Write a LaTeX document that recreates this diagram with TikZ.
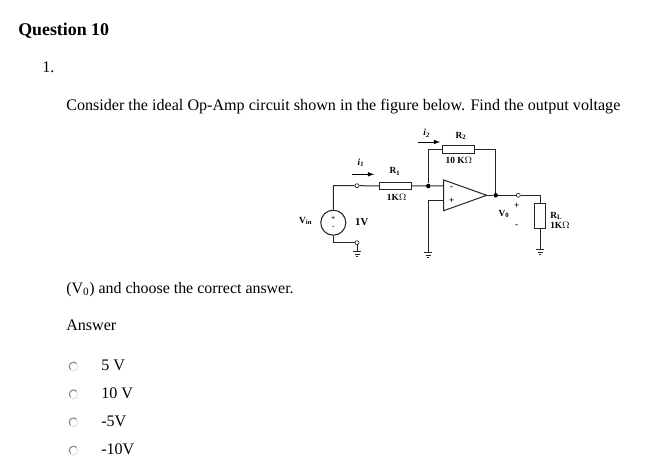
\documentclass[tikz,border=0pt]{standalone}
\usepackage{fontspec}
\setmainfont{Liberation Serif}
\tikzset{
  txt/.style={inner sep=0pt,anchor=base west,font=\fontsize{12.08}{14}\selectfont},
  lbl/.style={inner sep=0pt,font=\fontsize{7}{8}\selectfont\bfseries},
  sgn/.style={inner sep=0pt,font=\fontsize{5.5}{6}\selectfont\bfseries},
  wire/.style={draw=black!85,line width=.75pt},
  res/.style={draw=black!85,line width=.75pt,fill=white,inner sep=0pt,minimum width=24.3pt,minimum height=5.8pt},
  dot/.style={circle,fill=black,inner sep=0pt,minimum size=3.4pt},
  term/.style={circle,draw=black!85,fill=white,line width=.5pt,inner sep=0pt,minimum size=3pt},
  radio/.style={circle,draw=black!12,line width=.7pt,inner sep=0pt,minimum size=6.5pt},
  gnd/.pic={
    \draw[wire] (-4,0) -- (4,0);
    \draw[wire] (-2.5,2.5) -- (2.5,2.5);
    \draw[wire] (-1,5) -- (1,5);
  }
}
\begin{document}
\begin{tikzpicture}[x=.75pt,y=-.75pt]
\useasboundingbox (0,0) rectangle (667,470);
% page text
\node[txt,font=\fontsize{13.4}{16}\selectfont\bfseries] (title) at (18,35.5) {Question 10};
\node[txt] (num) at (42,73) {1.};
\node[txt] (line1) at (66,111) {Consider the ideal Op-Amp circuit shown in the figure below. Find the output voltage};
\node[txt,font=\fontsize{11.95}{14}\selectfont] (line2) at (66,293) {(V\textsubscript{0}) and choose the correct answer.};
\node[txt] (ans) at (66,330) {Answer};
% answers
\foreach \i/\yy/\t in {a/366.7/5 V,b/394.5/10 V,c/422.5/-5V,d/450.7/-10V}{
  \node[radio] (radio\i) at (73.3,\yy) {};
  \draw[black!50,line width=.7pt] (radio\i.north east) arc (-45:-225:4.33);
  \node[txt] (opt\i) at (101,\yy+3.5) {\t};
}
% resistors and amp
\node[res] (R1) at (395.5,186) {};
\node[res] (R2) at (458.5,149.3) {};
\node[res,minimum width=8.2pt,minimum height=19pt] (RL) at (540,216) {};
\coordinate (ampA) at (443.7,180);
\coordinate (ampB) at (443.7,210.7);
\coordinate (ampC) at (486.7,195.3);
\draw[wire] (ampA) -- (ampB) -- (ampC) -- cycle;
% source
\node[circle,draw=black!85,line width=.8pt,inner sep=0pt,minimum size=18.8pt] (vin) at (333.3,222.7) {};
\node[term] (t1) at (357,185.7) {};
\node[term] (t2) at (357,242.7) {};
\node[term] (t3) at (518.3,195.3) {};
\node[dot] (j1) at (428.3,186) {};
\node[dot] (j2) at (495.7,195.3) {};
\coordinate (inM) at (443.7,186);
\coordinate (inP) at (443.7,200.7);
\coordinate (g1) at (357,252);
\coordinate (g2) at (428.3,253);
\coordinate (g3) at (540,250);
% wires
\draw[wire] (vin.north) |- (t1) -- (R1) -- (j1) -- (inM);
\draw[wire] (vin.south) |- (t2) -- (g1);
\draw[wire] (j1) |- (R2) -| (j2);
\draw[wire] (ampC) -- (j2) -- (t3) -| (RL.north);
\draw[wire] (RL.south) -- (g3);
\draw[wire] (inP) -| (g2);
\pic at (g1) {gnd};
\pic at (g2) {gnd};
\pic at (g3) {gnd};
% current arrows
\coordinate (i1a) at (352.3,174.3);
\coordinate (i1b) at (374,174.3);
\coordinate (i2a) at (418.3,142);
\coordinate (i2b) at (440,142);
\draw[-latex,line width=.6pt] (i1a) -- (i1b);
\draw[-latex,line width=.6pt] (i2a) -- (i2b);
% labels
\node[lbl,font=\fontsize{7}{8}\selectfont\bfseries\itshape] (li1) at (361,163) {i\textsubscript{1}};
\node[lbl,font=\fontsize{7}{8}\selectfont\bfseries\itshape] (li2) at (426.7,133.3) {i\textsubscript{2}};
\node[lbl] (lR1) at (395,171.3) {R\textsubscript{1}};
\node[lbl] (lR1v) at (396.7,197.5) {1K$\Omega$};
\node[lbl] (lR2) at (461,136) {R\textsubscript{2}};
\node[lbl] (lR2v) at (459,160) {10 K$\Omega$};
\node[lbl] (lvin) at (305.7,220.7) {V\textsubscript{in}};
\node[lbl,font=\fontsize{8}{8}\selectfont\bfseries] (lv) at (361.7,221.7) {1V};
\node[sgn] (lp) at (333.3,218) {+};
\node[sgn] (lm) at (333.3,227.5) {-};
\node[lbl] (lampm) at (451.5,188) {-};
\node[lbl] (lampp) at (451.5,201) {+};
\node[lbl] (lv0) at (504,214) {V\textsubscript{0}};
\node[lbl] (lop) at (516.7,205.7) {+};
\node[lbl] (lom) at (516.7,226) {-};
\node[lbl,anchor=west] (lRL) at (550,216) {R\textsubscript{L}};
\node[lbl,anchor=west] (lRLv) at (550,225.7) {1K$\Omega$};
\end{tikzpicture}
\end{document}
